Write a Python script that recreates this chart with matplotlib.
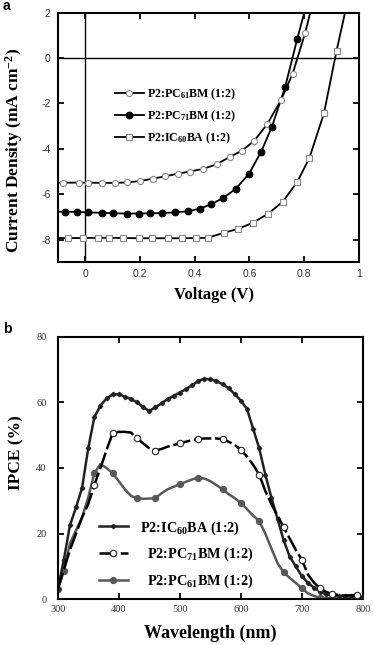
import matplotlib
matplotlib.use("Agg")
import matplotlib.pyplot as plt

plt.rcParams['axes.unicode_minus'] = False
plt.rcParams['mathtext.fontset'] = 'custom'
plt.rcParams['mathtext.rm'] = 'Liberation Serif:bold'
plt.rcParams['mathtext.bf'] = 'Liberation Serif:bold'
plt.rcParams['mathtext.it'] = 'Liberation Serif:bold'
plt.rcParams['mathtext.default'] = 'bf'

SERIF = 'Liberation Serif'
SANS = 'Liberation Sans'

# ---------------- Panel a data (J-V) ----------------
v_pc61 = [-0.079, -0.024, 0.012, 0.061, 0.109, 0.152, 0.20, 0.249, 0.292, 0.34,
          0.383, 0.432, 0.48, 0.529, 0.572, 0.617, 0.665, 0.715, 0.758, 0.803]
j_pc61 = [-5.49, -5.49, -5.49, -5.5, -5.5, -5.48, -5.42, -5.31, -5.21, -5.09,
          -5.0, -4.88, -4.68, -4.35, -4.09, -3.65, -2.91, -1.85, -0.68, 1.09]
v_pc71 = [-0.073, -0.03, 0.012, 0.061, 0.103, 0.152, 0.195, 0.237, 0.28, 0.328,
          0.377, 0.42, 0.459, 0.505, 0.551, 0.599, 0.643, 0.682, 0.73, 0.774]
j_pc71 = [-6.77, -6.78, -6.8, -6.82, -6.84, -6.85, -6.85, -6.84, -6.83, -6.8,
          -6.75, -6.63, -6.45, -6.16, -5.75, -5.09, -4.12, -3.03, -1.29, 0.82]
v_ic60 = [-0.061, -0.009, 0.046, 0.088, 0.14, 0.196, 0.246, 0.301, 0.355, 0.405,
          0.447, 0.507, 0.56, 0.614, 0.669, 0.721, 0.775, 0.819, 0.872, 0.918]
j_ic60 = [-7.93, -7.93, -7.92, -7.92, -7.93, -7.94, -7.94, -7.94, -7.94, -7.93,
          -7.92, -7.7, -7.52, -7.25, -6.85, -6.34, -5.45, -4.4, -2.44, 0.32]
# fitted-line end points (left edge start, top edge exit)
fit_start = [(-0.1, -5.49), (-0.1, -6.77), (-0.1, -7.93)]
fit_end = [(0.822, 2.0), (0.80, 2.0), (0.949, 2.0)]

labels_a = ['P2:PC$_{61}$BM (1:2)', 'P2:PC$_{71}$BM (1:2)', 'P2:IC$_{60}$BA (1:2)']
xticks_a = [0, 0.2, 0.4, 0.6, 0.8, 1]
xticklabels_a = ['0', '0.2', '0.4', '0.6', '0.8', '1']
yticks_a = [2, 0, -2, -4, -6, -8]

# ---------------- Panel b data (IPCE) ----------------
wavelength = [300, 310, 320, 330, 340, 350, 360, 370, 380, 390, 400, 410, 420, 430,
              440, 450, 460, 470, 480, 490, 500, 510, 520, 530, 540, 550, 560, 570,
              580, 590, 600, 610, 620, 630, 640, 650, 660, 670, 680, 690, 700, 710,
              720, 730, 740, 750, 760, 770, 780, 790, 800]
ipce_ic60 = [3, 12, 22.5, 28, 34, 46, 55.5, 59, 61.2, 62.4, 62.5, 61.7, 61, 60,
             58.5, 57.4, 58.5, 59.7, 61, 62, 63, 64, 65.2, 66.5, 67.2, 67, 66.5, 65.5,
             64.3, 62.5, 60.5, 58, 52, 46, 38, 31, 24.5, 18, 13, 10, 7, 5,
             3.5, 2.3, 1.5, 1.2, 1.0, 0.9, 0.9, 0.8, 0.8]
ipce_pc71 = [3, 9, 15, 20, 25, 29, 34.8, 40, 45.5, 50.6, 51, 51, 50.8, 49,
             47.5, 46, 45.3, 45.8, 46.5, 47, 47.6, 48, 48.5, 48.8, 49, 49, 49, 48.8,
             48, 47, 45.5, 43.5, 41, 38, 33, 29, 25.5, 22, 18.5, 15, 12, 7.5,
             5, 3.3, 2.2, 1.6, 1.3, 1.2, 1.2, 1.3, 0.8]
ipce_pc61 = [3, 8.6, 17, 21, 25, 31, 38.4, 41.2, 40, 38.4, 36, 33.5, 31.5, 30.8,
             30.6, 30.7, 30.8, 32.3, 33.5, 34.3, 35, 35.8, 36.5, 37, 36.8, 36, 34.8, 33.5,
             32, 30.8, 29.4, 27.5, 25.5, 23.9, 20, 15.5, 11, 8.2, 6.5, 5, 3.4, 1.8,
             1, 0.5, 0.4, 0.3, 0.2, 0.1, 0.1, 0, 0]
mark_pc71 = [6, 9, 13, 16, 20, 23, 27, 30, 33, 37, 40, 43, 45, 49]
mark_pc61 = [0, 1, 6, 9, 13, 16, 20, 23, 27, 30, 33, 37, 40, 43, 45, 49]
labels_b = ['P2:IC$_{60}$BA (1:2)', '  P2:PC$_{71}$BM (1:2)', '  P2:PC$_{61}$BM (1:2)']
xticks_b = [300, 400, 500, 600, 700, 800]
yticks_b = [0, 20, 40, 60, 80]

W, H = 373, 645
fig = plt.figure(figsize=(W / 100, H / 100), dpi=100)


def box(l, t, r, b):
    return [l / W, 1 - b / H, (r - l) / W, (b - t) / H]


# ---------------- Panel a ----------------
ax = fig.add_axes(box(57.7, 12.7, 359, 262.3))
ax.axhline(0, color='black', lw=1.0, zorder=1)
ax.axvline(0, color='black', lw=1.0, zorder=1)
styles_a = [dict(marker='o', mfc='white', mec='#8a8a8a', ms=4.4, mew=0.8),
            dict(marker='o', mfc='black', mec='black', ms=4.8, mew=0.8),
            dict(marker='s', mfc='white', mec='#8a8a8a', ms=4.8, mew=0.8)]
data_a = [(v_pc61, j_pc61), (v_pc71, j_pc71), (v_ic60, j_ic60)]
handles = []
for (vv, jj), st, s0, s1 in zip(data_a, styles_a, fit_start, fit_end):
    xs = [s0[0]] + vv + [s1[0]]
    ys = [s0[1]] + jj + [s1[1]]
    ax.plot(xs, ys, color='black', lw=1.3, zorder=2)
    ax.plot(vv, jj, ls='none', zorder=3, **st)
    h, = ax.plot([], [], color='black', lw=1.3, **st)
    handles.append(h)
ax.set_xlim(-0.1, 1.0)
ax.set_ylim(-9, 2)
ax.set_xticks(xticks_a)
ax.set_xticklabels(xticklabels_a)
ax.set_yticks(yticks_a)
ax.tick_params(direction='in', length=4, width=1.3, top=True, right=True,
               labelsize=7.5, labelcolor='#333333', pad=5)
for t in ax.get_xticklabels() + ax.get_yticklabels():
    t.set_fontfamily(SANS)
for s in ax.spines.values():
    s.set_linewidth(1.5)
ax.set_xlabel('Voltage (V)', fontfamily=SERIF, fontweight='bold', fontsize=12)
ax.xaxis.set_label_coords(0.52, -0.1)
ax.set_ylabel('Current Density (mA cm$^{-2}$)', fontfamily=SERIF, fontweight='bold',
              fontsize=12.5)
ax.yaxis.set_label_coords(-0.11, 0.45)
ax.legend(handles, labels_a, loc='upper left', bbox_to_anchor=(0.19, 0.703),
          frameon=False, prop=dict(family=SERIF, weight='bold', size=8.6),
          handlelength=2.4, handletextpad=0.3, labelspacing=0.55,
          borderpad=0, borderaxespad=0)
fig.text(3 / W, 1 - 10 / H, 'a', fontfamily=SANS, fontweight='bold', fontsize=10)

# ---------------- Panel b ----------------
bx = fig.add_axes(box(57.7, 336.7, 363, 599.3))
h1, = bx.plot(wavelength, ipce_ic60, color='#222222', lw=1.8, marker='D', ms=2.2,
              mfc='#222222', mec='#222222', zorder=3)
h2, = bx.plot(wavelength, ipce_pc71, color='black', lw=1.8, ls=(0, (7, 1.5)),
              marker='o', ms=4.6, mfc='white', mec='#222222', mew=0.8,
              markevery=mark_pc71, zorder=4)
h3, = bx.plot(wavelength, ipce_pc61, color='#585858', lw=1.8, marker='o', ms=4.2,
              mfc='#585858', mec='#585858', markevery=mark_pc61, zorder=2)
bx.set_xlim(300, 800)
bx.set_ylim(0, 80)
bx.set_xticks(xticks_b)
bx.set_yticks(yticks_b)
bx.tick_params(direction='in', length=4, width=1.3, top=True, right=True,
               labelsize=7.5, labelcolor='#333333')
bx.tick_params(axis='x', pad=4)
bx.tick_params(axis='y', pad=8)
for t in bx.get_xticklabels() + bx.get_yticklabels():
    t.set_fontfamily(SERIF)
for s in bx.spines.values():
    s.set_linewidth(1.5)
bx.set_xlabel('Wavelength (nm)', fontfamily=SERIF, fontweight='bold', fontsize=13)
bx.xaxis.set_label_coords(0.5, -0.095)
bx.set_ylabel('IPCE (%)', fontfamily=SERIF, fontweight='bold', fontsize=12.5)
bx.yaxis.set_label_coords(-0.11, 0.56)
bx.legend([h1, h2, h3], labels_b, loc='upper left', bbox_to_anchor=(0.135, 0.305),
          frameon=False, prop=dict(family=SERIF, weight='bold', size=10.3),
          handlelength=2.0, handletextpad=0.9, labelspacing=0.65,
          borderpad=0, borderaxespad=0)
fig.text(3 / W, 1 - 333 / H, 'b', fontfamily=SANS, fontweight='bold', fontsize=10)

fig.savefig('out.png', dpi=100)
